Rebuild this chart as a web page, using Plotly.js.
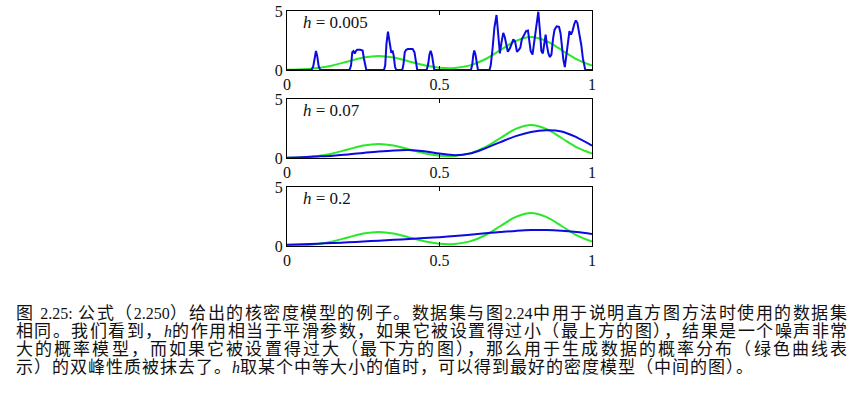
<!DOCTYPE html>
<html>
<head>
<meta charset="utf-8">
<script src="https://cdn.plot.ly/plotly-3.0.1.min.js"></script>
<style>
  @font-face { font-family: "CapCJK"; font-style: normal; font-weight: 400;
    src: local("Noto Sans CJK SC"), local("Noto Sans CJK SC Regular"), local("NotoSansCJKsc-Regular");
    ascent-override: 86%; descent-override: 12%; line-gap-override: 0%; }
  html, body { margin: 0; padding: 0; background: #fff; }
  #wrap { position: relative; width: 858px; height: 397px; overflow: hidden; }
  #plot { position: absolute; left: 0; top: 0; width: 858px; height: 397px; }
  #caption { position: absolute; left: 16px; top: 304px; width: 832px;
    font-family: "CapCJK", "Noto Sans CJK SC", sans-serif;
    font-size: 17px; color: #111; letter-spacing: 1px; }
  #caption .ln { height: 18px; line-height: 18px; white-space: nowrap; text-align: justify; text-align-last: justify; }
  #caption .ln.last { text-align-last: left; }
  #caption .lat { font-family: "Liberation Serif", serif; font-size: 16px; letter-spacing: 0; }
</style>
</head>
<body>
<div id="wrap">
  <div id="plot"></div>
  <div id="caption"></div>
</div>
<script>
// ---- Data ----
const panelLabels = ["<i>h</i> = 0.005", "<i>h</i> = 0.07", "<i>h</i> = 0.2"];
const xTickVals = [0, 0.5, 1];
const xTickText = ["0", "0.5", "1"];
const yTickVals = [0, 5];
const yTickText = ["0", "5"];

// true density (green), sampled every 0.05
const greenX = [0, 0.05, 0.1, 0.15, 0.2, 0.25, 0.3, 0.35, 0.4, 0.45, 0.5,
                0.55, 0.6, 0.65, 0.7, 0.75, 0.8, 0.85, 0.9, 0.95, 1.0];
const greenY = [0.013, 0.053, 0.162, 0.389, 0.726, 1.056, 1.197, 1.056, 0.727, 0.395, 0.193,
                0.175, 0.391, 0.910, 1.694, 2.465, 2.793, 2.465, 1.694, 0.907, 0.378];

// kernel estimate h = 0.005 (blue, top)
const blue1X = [0, 0.08, 0.086, 0.091, 0.095, 0.099, 0.104, 0.109,
  0.205, 0.21, 0.214, 0.218, 0.222, 0.226, 0.23, 0.24, 0.248, 0.252, 0.257, 0.26,
  0.318, 0.322, 0.326, 0.331, 0.335, 0.339, 0.342, 0.346, 0.35, 0.354, 0.358,
  0.378, 0.382, 0.386, 0.39, 0.396, 0.404, 0.412, 0.418, 0.422, 0.427,
  0.458, 0.463, 0.467, 0.471, 0.475, 0.479, 0.483,
  0.603, 0.607, 0.611, 0.614, 0.618, 0.622, 0.626,
  0.664, 0.668, 0.674, 0.68, 0.687, 0.692, 0.698, 0.703, 0.709, 0.714, 0.72, 0.724,
  0.731, 0.737, 0.742, 0.748, 0.754, 0.76, 0.765, 0.77, 0.775, 0.784, 0.79, 0.794,
  0.799, 0.805, 0.81, 0.815, 0.824, 0.829, 0.834, 0.839, 0.845, 0.848, 0.852, 0.857,
  0.862, 0.867, 0.872, 0.877, 0.884, 0.892, 0.897, 0.902, 0.906, 0.911, 0.916, 0.92,
  0.926, 0.931, 0.936, 0.942, 0.947, 0.952, 0.956, 0.96, 0.965, 0.97, 0.975, 0.978, 1.0];
const blue1Y = [0, 0, 0.3, 1.2, 1.62, 1.2, 0.3, 0,
  0, 0.4, 1.5, 1.6, 1.4, 1.6, 1.72, 1.72, 1.65, 1.0, 0.1, 0,
  0, 0.4, 2.2, 3.25, 2.6, 1.6, 1.45, 1.65, 1.2, 0.3, 0,
  0, 0.5, 1.5, 1.7, 1.78, 1.75, 1.78, 1.5, 0.6, 0,
  0, 0.5, 1.3, 1.62, 1.3, 0.4, 0,
  0, 0.4, 1.3, 1.65, 1.3, 0.4, 0,
  0, 0.4, 1.8, 3.6, 4.66, 3.2, 1.4, 2.3, 3.15, 2.8, 1.9, 1.55,
  1.84, 2.2, 2.6, 2.4, 1.55, 1.7, 1.9, 2.6, 2.9, 3.3, 3.35, 2.6,
  1.6, 1.3, 2.2, 3.4, 4.94, 3.4, 1.6, 1.4, 2.7, 3.0, 2.1, 1.4,
  1.1, 1.3, 2.6, 3.4, 3.7, 3.65, 3.1, 1.8, 0.9, 0.25, 1.4, 2.4,
  3.3, 3.0, 3.3, 3.9, 4.2, 4.0, 3.5, 2.7, 2.1, 1.0, 0.1, 0, 0];

// kernel estimate h = 0.07 (blue, middle)
const blue2X = greenX;
const blue2Y = [0.03, 0.07, 0.13, 0.2, 0.3, 0.43, 0.55, 0.64, 0.67, 0.57, 0.38,
                0.24, 0.38, 0.82, 1.35, 1.85, 2.2, 2.35, 2.25, 1.75, 1.05];

// kernel estimate h = 0.2 (blue, bottom)
const blue3X = greenX;
const blue3Y = [0.11, 0.15, 0.2, 0.25, 0.31, 0.38, 0.45, 0.52, 0.59, 0.67, 0.75,
                0.85, 0.95, 1.07, 1.18, 1.28, 1.35, 1.36, 1.3, 1.18, 1.02];

const captionLines = [
  "图 <span class=\"lat\">2.25:</span> 公式（<span class=\"lat\">2.250</span>）给出的核密度模型的例子。数据集与图<span class=\"lat\">2.24</span>中用于说明直方图方法时使用的数据集",
  "相同。我们看到，<span class=\"lat\"><i>h</i></span>的作用相当于平滑参数，如果它被设置得过小（最上方的图），结果是一个噪声非常",
  "大的概率模型，而如果它被设置得过大（最下方的图），那么用于生成数据的概率分布（绿色曲线表",
  "示）的双峰性质被抹去了。<span class=\"lat\"><i>h</i></span>取某个中等大小的值时，可以得到最好的密度模型（中间的图）。"
];

// ---- Styling / layout ----
const GREEN = "rgb(40,232,40)";
const BLUE = "rgb(10,10,225)";
const W = 858, H = 397;
const xDom = [287 / W, 592 / W];
const yDoms = [[1 - 70 / H, 1 - 11 / H], [1 - 158 / H, 1 - 99 / H], [1 - 246 / H, 1 - 187 / H]];

const blues = [[blue1X, blue1Y, "linear"], [blue2X, blue2Y, "spline"], [blue3X, blue3Y, "spline"]];
const traces = [];
const layout = {
  width: W, height: H,
  margin: {l: 0, r: 0, t: 0, b: 0},
  paper_bgcolor: "#fff", plot_bgcolor: "#fff",
  showlegend: false,
  annotations: []
};
const tickFont = {family: "Liberation Serif, serif", size: 16, color: "#111"};

for (let i = 0; i < 3; i++) {
  const sfx = i === 0 ? "" : String(i + 1);
  traces.push({x: greenX, y: greenY, xaxis: "x" + sfx, yaxis: "y" + sfx, mode: "lines",
    line: {color: GREEN, width: 2, shape: "spline"}, hoverinfo: "skip"});
  traces.push({x: blues[i][0], y: blues[i][1], xaxis: "x" + sfx, yaxis: "y" + sfx, mode: "lines",
    line: {color: BLUE, width: 2, shape: blues[i][2]}, hoverinfo: "skip"});
  layout["xaxis" + sfx] = {
    domain: xDom, range: [0, 1], anchor: "y" + sfx,
    tickmode: "array", tickvals: xTickVals, ticktext: xTickText,
    ticks: "inside", ticklen: 4, tickcolor: "#000", tickwidth: 1,
    showline: true, linecolor: "#000", linewidth: 1, mirror: "allticks",
    showgrid: false, zeroline: false, tickfont: tickFont, fixedrange: true
  };
  layout["yaxis" + sfx] = {
    domain: yDoms[i], range: [0, 5], anchor: "x" + sfx,
    tickmode: "array", tickvals: yTickVals, ticktext: yTickText,
    ticks: "inside", ticklen: 4, tickcolor: "#000", tickwidth: 1,
    showline: true, linecolor: "#000", linewidth: 1, mirror: "allticks",
    showgrid: false, zeroline: false, tickfont: tickFont, fixedrange: true
  };
  layout.annotations.push({
    text: panelLabels[i], xref: "x" + sfx + " domain", yref: "y" + sfx + " domain",
    x: 0.045, y: 0.8, xanchor: "left", yanchor: "middle", showarrow: false,
    font: {family: "Liberation Serif, serif", size: 17, color: "#111"}
  });
}

Plotly.newPlot("plot", traces, layout, {staticPlot: true, displayModeBar: false});

const cap = document.getElementById("caption");
captionLines.forEach((t, i) => {
  const d = document.createElement("div");
  d.className = "ln" + (i === captionLines.length - 1 ? " last" : "");
  d.innerHTML = t;
  cap.appendChild(d);
});
</script>
</body>
</html>
